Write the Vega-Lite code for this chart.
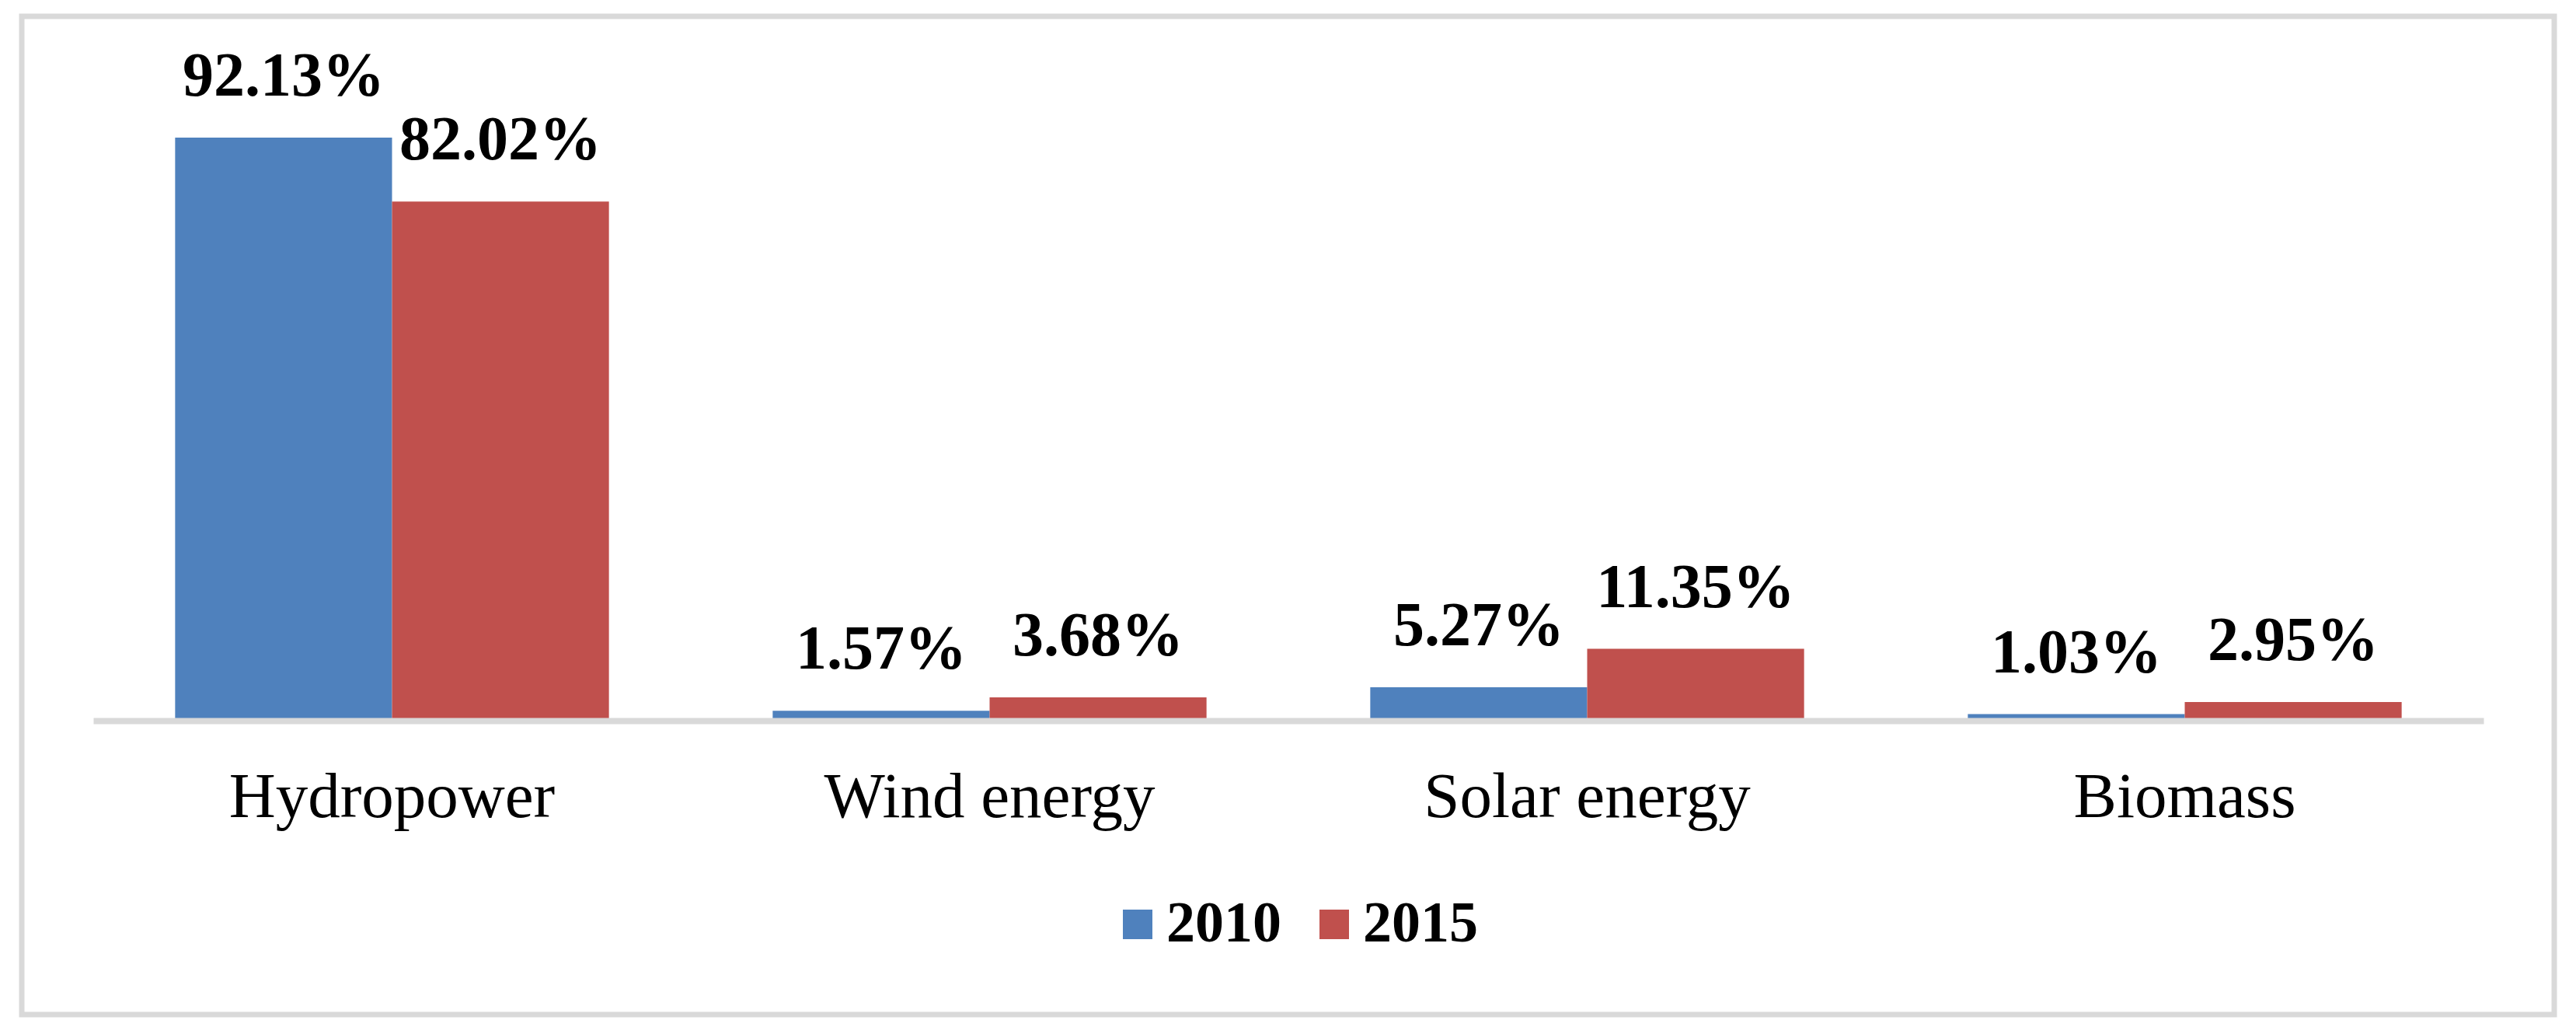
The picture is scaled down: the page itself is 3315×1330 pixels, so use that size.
{
  "$schema": "https://vega.github.io/schema/vega-lite/v6.json",
  "width": 3259,
  "height": 1284,
  "autosize": "none",
  "padding": {"left": 28, "top": 21, "right": 28, "bottom": 25},
  "background": "#ffffff",
  "config": {
    "view": {"stroke": "#d9d9d9", "strokeWidth": 7},
    "font": "Liberation Serif"
  },
  "data": {
    "values": [
      {"source": "Hydropower", "year": "2010", "share": 0.9213},
      {"source": "Hydropower", "year": "2015", "share": 0.8202},
      {"source": "Wind energy", "year": "2010", "share": 0.0157},
      {"source": "Wind energy", "year": "2015", "share": 0.0368},
      {"source": "Solar energy", "year": "2010", "share": 0.0527},
      {"source": "Solar energy", "year": "2015", "share": 0.1135},
      {"source": "Biomass", "year": "2010", "share": 0.0103},
      {"source": "Biomass", "year": "2015", "share": 0.0295}
    ]
  },
  "encoding": {
    "x": {
      "field": "source",
      "type": "nominal",
      "sort": ["Hydropower", "Wind energy", "Solar energy", "Biomass"],
      "scale": {"range": [92, 3168], "paddingInner": 0.274, "paddingOuter": 0.137},
      "axis": {
        "title": null,
        "labelAngle": 0,
        "ticks": false,
        "tickSize": 0,
        "domainColor": "#d9d9d9",
        "domainWidth": 8,
        "labelFont": "Liberation Serif",
        "labelFontSize": 83,
        "labelColor": "#000000",
        "labelBaseline": "alphabetic",
        "labelPadding": 123,
        "labelLimit": 1000,
        "offset": -378,
        "zindex": 1,
        "grid": false
      }
    },
    "xOffset": {
      "field": "year",
      "type": "nominal",
      "sort": ["2010", "2015"],
      "scale": {"paddingInner": 0, "paddingOuter": 0}
    },
    "y": {
      "field": "share",
      "type": "quantitative",
      "scale": {"domain": [-0.4644, 1.113], "nice": false, "zero": false},
      "axis": null
    }
  },
  "layer": [
    {
      "mark": {"type": "bar"},
      "encoding": {
        "y2": {"datum": 0},
        "color": {
          "field": "year",
          "type": "nominal",
          "scale": {"domain": ["2010", "2015"], "range": ["#4F81BD", "#C0504D"]},
          "legend": {
            "orient": "none",
            "legendX": 1399,
            "legendY": 1131,
            "direction": "horizontal",
            "title": null,
            "padding": 0,
            "symbolType": "square",
            "symbolSize": 1444,
            "symbolStrokeWidth": 0,
            "symbolOpacity": 1,
            "labelFont": "Liberation Serif",
            "labelFontWeight": "bold",
            "labelFontSize": 74,
            "labelColor": "#000000",
            "labelOffset": 0,
            "labelLimit": 400,
            "columnPadding": 31
          }
        }
      }
    },
    {
      "mark": {
        "type": "text",
        "font": "Liberation Serif",
        "fontWeight": "bold",
        "fontSize": 80,
        "baseline": "alphabetic",
        "align": "center",
        "dy": -54,
        "color": "#000000"
      },
      "encoding": {
        "text": {"field": "share", "type": "quantitative", "format": ".2%"}
      }
    }
  ]
}
